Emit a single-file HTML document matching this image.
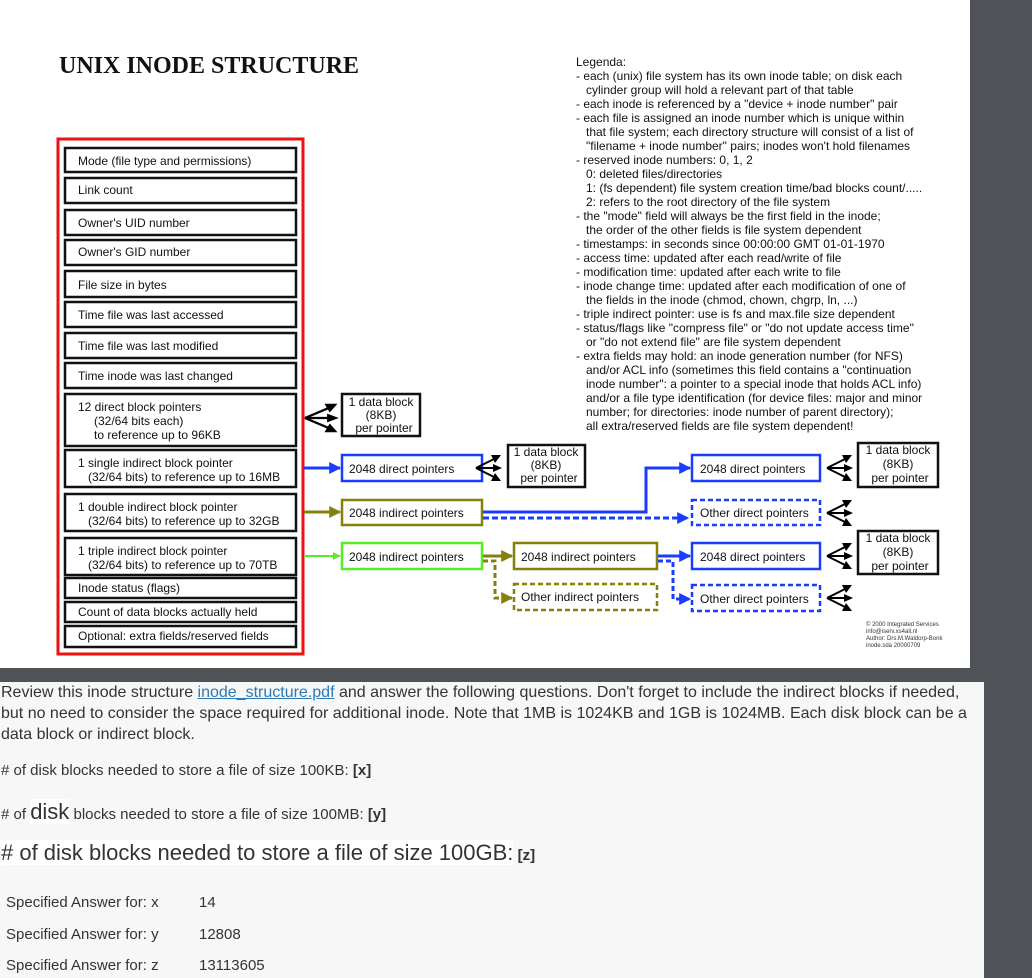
<!DOCTYPE html>
<html><head><meta charset="utf-8"><style>
html,body{margin:0;padding:0;width:1032px;height:978px;overflow:hidden;background:#4f5256;}
#page{position:absolute;left:0;top:0;width:970px;height:668px;background:#fff;}
#low{position:absolute;left:0;top:682px;width:984px;height:296px;background:#f7f7f7;font-family:"Liberation Sans",sans-serif;color:#333;font-size:16px;}
#low div{position:absolute;left:1px;white-space:nowrap;}
svg text{font-family:"Liberation Sans",sans-serif;}
</style></head><body>
<div id="page">
<svg width="970" height="668" xmlns="http://www.w3.org/2000/svg">
<defs>
<marker id="ab" viewBox="0 0 10 10" refX="9" refY="5" markerWidth="4" markerHeight="4" orient="auto"><path d="M0,0L10,5L0,10z" fill="#1a3cff"/></marker>
<marker id="ao" viewBox="0 0 10 10" refX="9" refY="5" markerWidth="4" markerHeight="4" orient="auto"><path d="M0,0L10,5L0,10z" fill="#85800a"/></marker>
<marker id="ag" viewBox="0 0 10 10" refX="9" refY="5" markerWidth="4" markerHeight="4" orient="auto"><path d="M0,0L10,5L0,10z" fill="#55ee22"/></marker>
<g id="fan">
<g stroke="#000" stroke-width="2" fill="none">
<line x1="0" y1="0" x2="18" y2="-9"/>
<line x1="0" y1="0" x2="19" y2="0"/>
<line x1="0" y1="0" x2="18" y2="9"/>
</g>
<g fill="#000">
<polygon points="25,-13 15,-13 19,-5"/>
<polygon points="26,0 17,-4 17,4"/>
<polygon points="25,13 15,13 19,5"/>
</g>
</g>
</defs>
<text x="59" y="73" font-weight="bold" font-size="24" fill="#111" style="font-family:'Liberation Serif',serif">UNIX INODE STRUCTURE</text>
<rect x="58" y="139" width="245" height="515" fill="none" stroke="#ee1111" stroke-width="3"/>
<g fill="#fff" stroke="#111" stroke-width="2.5">
<rect x="65" y="148" width="231" height="24"/><rect x="65" y="178" width="231" height="25"/>
<rect x="65" y="210" width="231" height="25"/><rect x="65" y="240" width="231" height="25"/>
<rect x="65" y="271" width="231" height="26"/><rect x="65" y="302" width="231" height="25"/>
<rect x="65" y="333" width="231" height="25"/><rect x="65" y="363" width="231" height="25"/>
<rect x="65" y="394" width="231" height="52"/><rect x="65" y="450" width="231" height="37"/>
<rect x="65" y="494" width="231" height="37"/><rect x="65" y="538" width="231" height="37"/>
<rect x="65" y="578" width="231" height="20"/><rect x="65" y="602" width="231" height="20"/>
<rect x="65" y="626" width="231" height="21"/>
</g>
<g font-size="12" fill="#111">
<text x="78" y="165">Mode (file type and permissions)</text>
<text x="78" y="194">Link count</text>
<text x="78" y="227">Owner's UID number</text>
<text x="78" y="256">Owner's GID number</text>
<text x="78" y="289">File size in bytes</text>
<text x="78" y="319">Time file was last accessed</text>
<text x="78" y="350">Time file was last modified</text>
<text x="78" y="380">Time inode was last changed</text>
<text x="78" y="411">12 direct block pointers</text>
<text x="94" y="425">(32/64 bits each)</text>
<text x="94" y="439">to reference up to 96KB</text>
<text x="78" y="467">1 single indirect block pointer</text>
<text x="88" y="481">(32/64 bits) to reference up to 16MB</text>
<text x="78" y="511">1 double indirect block pointer</text>
<text x="88" y="525">(32/64 bits) to reference up to 32GB</text>
<text x="78" y="555">1 triple indirect block pointer</text>
<text x="88" y="569">(32/64 bits) to reference up to 70TB</text>
<text x="78" y="592">Inode status (flags)</text>
<text x="78" y="616">Count of data blocks actually held</text>
<text x="78" y="640">Optional: extra fields/reserved fields</text>
</g>
<g fill="#fff" stroke="#111" stroke-width="2.5">
<rect x="342" y="394" width="78" height="42"/><rect x="508" y="445" width="77" height="42"/>
<rect x="858" y="443" width="80" height="44"/><rect x="858" y="531" width="80" height="43"/>
</g>
<g font-size="12" fill="#111" text-anchor="middle">
<text x="381" y="406">1 data block</text><text x="381" y="419">(8KB)</text><text x="384" y="432">per pointer</text>
<text x="546" y="456">1 data block</text><text x="546" y="469">(8KB)</text><text x="549" y="482">per pointer</text>
<text x="898" y="454">1 data block</text><text x="898" y="468">(8KB)</text><text x="900" y="482">per pointer</text>
<text x="898" y="542">1 data block</text><text x="898" y="556">(8KB)</text><text x="900" y="570">per pointer</text>
</g>
<rect x="342" y="455" width="140" height="26" fill="#fff" stroke="#1a3cff" stroke-width="2.5"/>
<rect x="342" y="500" width="140" height="25" fill="#fff" stroke="#85800a" stroke-width="2.5"/>
<rect x="342" y="543" width="140" height="26" fill="#fff" stroke="#55ee22" stroke-width="2.5"/>
<rect x="514" y="543" width="143" height="26" fill="#fff" stroke="#85800a" stroke-width="2.5"/>
<rect x="514" y="584" width="143" height="26" fill="#fff" stroke="#85800a" stroke-width="2.5" stroke-dasharray="5,3"/>
<rect x="692" y="455" width="128" height="26" fill="#fff" stroke="#1a3cff" stroke-width="2.5"/>
<rect x="692" y="500" width="128" height="25" fill="#fff" stroke="#1a3cff" stroke-width="2.5" stroke-dasharray="5,3"/>
<rect x="692" y="543" width="128" height="26" fill="#fff" stroke="#1a3cff" stroke-width="2.5"/>
<rect x="692" y="585" width="128" height="26" fill="#fff" stroke="#1a3cff" stroke-width="2.5" stroke-dasharray="5,3"/>
<g font-size="12" fill="#111">
<text x="349" y="473">2048 direct pointers</text>
<text x="349" y="517">2048 indirect pointers</text>
<text x="349" y="561">2048 indirect pointers</text>
<text x="521" y="561">2048 indirect pointers</text>
<text x="521" y="601">Other indirect pointers</text>
<text x="700" y="473">2048 direct pointers</text>
<text x="700" y="517">Other direct pointers</text>
<text x="700" y="561">2048 direct pointers</text>
<text x="700" y="603">Other direct pointers</text>
</g>
<g fill="none" stroke-width="3">
<line x1="304" y1="468" x2="340" y2="468" stroke="#1a3cff" marker-end="url(#ab)"/>
<line x1="304" y1="512" x2="340" y2="512" stroke="#85800a" marker-end="url(#ao)"/>
<line x1="304" y1="556" x2="340" y2="556" stroke="#55ee22" stroke-width="2" marker-end="url(#ag)"/>
<polyline points="483,512 646,512 646,468 690,468" stroke="#1a3cff" marker-end="url(#ab)"/>
<line x1="483" y1="518" x2="688" y2="518" stroke="#1a3cff" stroke-dasharray="6,3" marker-end="url(#ab)"/>
<line x1="483" y1="556" x2="512" y2="556" stroke="#85800a" marker-end="url(#ao)"/>
<polyline points="483,561 495,561 495,598 512,598" stroke="#85800a" stroke-dasharray="5,3" marker-end="url(#ao)"/>
<line x1="658" y1="556" x2="690" y2="556" stroke="#1a3cff" marker-end="url(#ab)"/>
<polyline points="658,561 673,561 673,599 690,599" stroke="#1a3cff" stroke-dasharray="5,3" marker-end="url(#ab)"/>
</g>
<use href="#fan" transform="translate(305,418) scale(1.3,1.1)"/>
<use href="#fan" transform="translate(476,468)"/>
<use href="#fan" transform="translate(827,468)"/>
<use href="#fan" transform="translate(827,513)"/>
<use href="#fan" transform="translate(827,556)"/>
<use href="#fan" transform="translate(827,598)"/>
<g font-size="12" fill="#111">
<text x="576" y="66">Legenda:</text>
<text x="576" y="80">- each (unix) file system has its own inode table; on disk each</text>
<text x="586" y="94">cylinder group will hold a relevant part of that table</text>
<text x="576" y="108">- each inode is referenced by a "device + inode number" pair</text>
<text x="576" y="122">- each file is assigned an inode number which is unique within</text>
<text x="586" y="136">that file system; each directory structure will consist of a list of</text>
<text x="586" y="150">"filename + inode number" pairs; inodes won't hold filenames</text>
<text x="576" y="164">- reserved inode numbers: 0, 1, 2</text>
<text x="586" y="178">0: deleted files/directories</text>
<text x="586" y="192">1: (fs dependent) file system creation time/bad blocks count/.....</text>
<text x="586" y="206">2: refers to the root directory of the file system</text>
<text x="576" y="220">- the "mode" field will always be the first field in the inode;</text>
<text x="586" y="234">the order of the other fields is file system dependent</text>
<text x="576" y="248">- timestamps: in seconds since 00:00:00 GMT 01-01-1970</text>
<text x="576" y="262">- access time: updated after each read/write of file</text>
<text x="576" y="276">- modification time: updated after each write to file</text>
<text x="576" y="290">- inode change time: updated after each modification of one of</text>
<text x="586" y="304">the fields in the inode (chmod, chown, chgrp, ln, ...)</text>
<text x="576" y="318">- triple indirect pointer: use is fs and max.file size dependent</text>
<text x="576" y="332">- status/flags like "compress file" or "do not update access time"</text>
<text x="586" y="346">or "do not extend file" are file system dependent</text>
<text x="576" y="360">- extra fields may hold: an inode generation number (for NFS)</text>
<text x="586" y="374">and/or ACL info (sometimes this field contains a "continuation</text>
<text x="586" y="388">inode number": a pointer to a special inode that holds ACL info)</text>
<text x="586" y="402">and/or a file type identification (for device files: major and minor</text>
<text x="586" y="416">number; for directories: inode number of parent directory);</text>
<text x="586" y="430">all extra/reserved fields are file system dependent!</text>
</g>
<g font-size="6" fill="#333">
<text x="866" y="626">© 2000 Integrated Services</text>
<text x="866" y="633">info@iserv.xs4all.nl</text>
<text x="866" y="640">Author: Drs.M.Waldorp-Bonk</text>
<text x="866" y="647">inode.sda 20000709</text>
</g>
</svg>
</div>
<div id="low">
<div style="top:2px">Review this inode structure <span style="color:#2a7ab8;text-decoration:underline">inode_structure.pdf</span> and answer the following questions. Don't forget to include the indirect blocks if needed,</div>
<div style="top:23px">but no need to consider the space required for additional inode. Note that 1MB is 1024KB and 1GB is 1024MB. Each disk block can be a</div>
<div style="top:44px">data block or indirect block.</div>
<div style="top:80px;font-size:15px"># of disk blocks needed to store a file of size 100KB: <b>[x]</b></div>
<div style="top:117px;font-size:15px"># of <span style="font-size:22px;background:#fff">disk</span> blocks needed to store a file of size 100MB: <b>[y]</b></div>
<div style="top:158px;font-size:15px"><span style="font-size:22px;background:#fff"># of disk blocks needed to store a file of size 100GB:</span> <b>[z]</b></div>
<div style="top:212px;left:6px;font-size:15px">Specified Answer for: x</div><div style="top:212px;left:199px;font-size:15px">14</div>
<div style="top:244px;left:6px;font-size:15px">Specified Answer for: y</div><div style="top:244px;left:199px;font-size:15px">12808</div>
<div style="top:275px;left:6px;font-size:15px">Specified Answer for: z</div><div style="top:275px;left:199px;font-size:15px">13113605</div>
</div>
</body></html>
